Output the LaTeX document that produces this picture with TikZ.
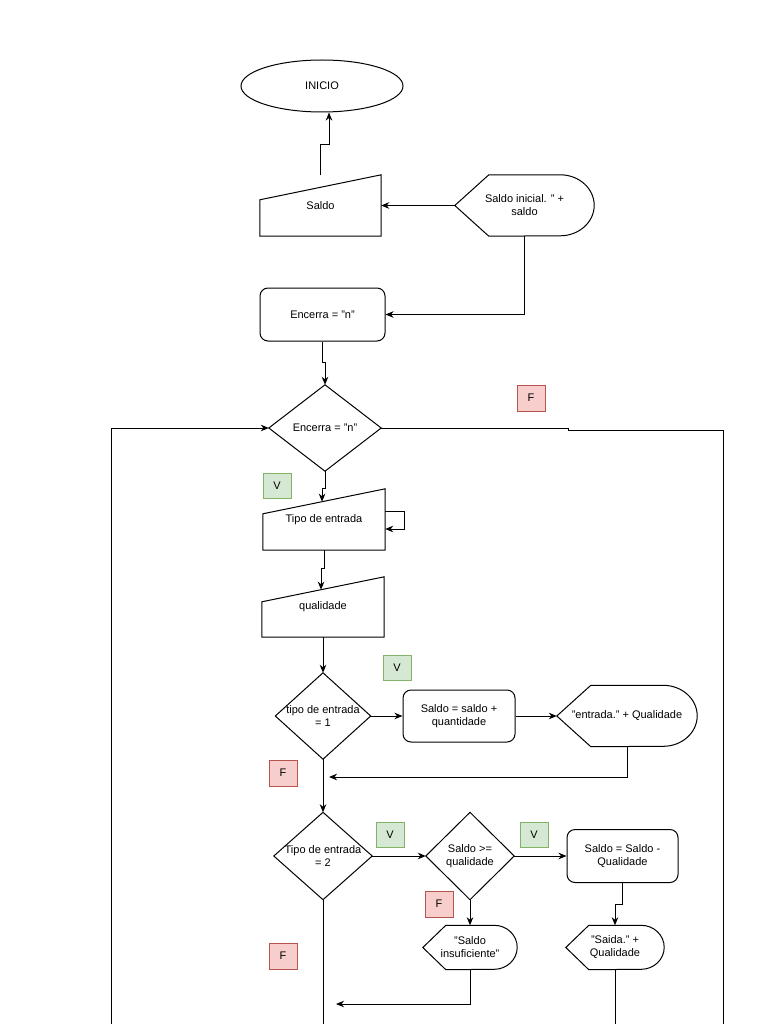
\documentclass[tikz,border=0pt]{standalone}
\usepackage{fontspec}
\setmainfont{Liberation Sans}
\usetikzlibrary{arrows.meta,calc,shapes.geometric}
\definecolor{redfill}{HTML}{F8CECC}
\definecolor{redline}{HTML}{B85450}
\definecolor{greenfill}{HTML}{D5E8D4}
\definecolor{greenline}{HTML}{82B366}
\newcommand\mishape[1]{\draw[ln] (#1.south west) -- ($(#1.north west)+(0,25)$) -- (#1.north east) -- (#1.south east) -- cycle;}
\newcommand\dispshape[3]{\draw[ln] (#1.west) -- ($(#1.north west)+(#2,0)$) -- ($(#1.north east)+(-#2,0)$) arc[start angle=90,end angle=-90,x radius=#2pt,y radius=#3pt] -- ($(#1.south west)+(#2,0)$) -- cycle;}
\newcommand\diashape[1]{\draw[ln] (#1.north) -- (#1.east) -- (#1.south) -- (#1.west) -- cycle;}
\begin{document}
\begin{tikzpicture}[x=1pt,y=-1pt,
  ln/.style={line width=1pt,black,line join=miter},
  arr/.style={ln,-{Stealth[length=8pt,width=6.5pt,inset=2.5pt]}},
  txt/.style={rectangle,inner sep=0pt,align=center,font=\fontsize{11}{13}\selectfont},
  bbox/.style 2 args={txt,minimum width=#1pt,minimum height=#2pt},
  rbox/.style 2 args={bbox={#1}{#2},draw,line width=1pt,rounded corners=8pt},
  vtag/.style={txt,draw=greenline,fill=greenfill,line width=1pt,minimum width=28pt,minimum height=25pt},
  ftag/.style={txt,draw=redline,fill=redfill,line width=1pt,minimum width=28pt,minimum height=26pt}]
\useasboundingbox (0,0) rectangle (768,1024);
\fill[white] (0,0) rectangle (768,1024);

% nodes
\node[txt,shape=ellipse,draw,line width=1pt,minimum width=162pt,minimum height=52pt] (inicio) at (322,86) {INICIO};
\node[bbox={121}{61}] (saldo) at (320.5,205.5) {Saldo};
\mishape{saldo}
\node[bbox={139}{61}] (disp0) at (524.5,205.5) {Saldo inicial. " +\\saldo};
\dispshape{disp0}{34}{30.5}
\node[rbox={125}{53}] (encbox) at (322.5,314.5) {Encerra = "n"};
\node[bbox={112}{86}] (encD) at (325,428) {Encerra = "n"};
\diashape{encD}
\node[bbox={122}{61}] (tipo) at (324,519.5) {Tipo de entrada};
\mishape{tipo}
\node[bbox={122}{60}] (qual) at (323,607) {qualidade};
\mishape{qual}
\node[bbox={95}{86}] (d1) at (323,716) {tipo de entrada\\= 1};
\diashape{d1}
\node[rbox={112}{52}] (b1) at (459,716) {Saldo = saldo +\\quantidade};
\node[bbox={140}{61}] (disp1) at (627,716) {"entrada." + Qualidade};
\dispshape{disp1}{34}{30.5}
\node[bbox={98}{87}] (d2) at (323,856) {Tipo de entrada\\= 2};
\diashape{d2}
\node[bbox={88}{87}] (d3) at (470,856) {Saldo >=\\qualidade};
\diashape{d3}
\node[rbox={111}{53}] (b2) at (622.5,856) {Saldo = Saldo -\\Qualidade};
\node[bbox={94}{44}] (disp2) at (470,947.5) {"Saldo\\insuficiente"};
\dispshape{disp2}{23}{22}
\node[bbox={98}{44}] (disp3) at (615,947.5) {"Saida." +\\Qualidade};
\dispshape{disp3}{23}{22}

% tags
\node[ftag] (f0) at (531,398) {F};
\node[vtag] (v0) at (277,486) {V};
\node[vtag] (v1) at (397,668) {V};
\node[ftag] (f1) at (283,773) {F};
\node[vtag] (v2) at (390,834.5) {V};
\node[vtag] (v3) at (534,834.5) {V};
\node[ftag] (f2) at (439,904) {F};
\node[ftag] (f3) at (283,956) {F};

% free ends
\coordinate (botL) at (111,1024);
\coordinate (botR) at (723,1024);
\coordinate (m1) at (329,777);
\coordinate (m2) at (336,1004);
\coordinate (tipoTop) at ($($(tipo.north west)+(0,25)$)!0.484!(tipo.north east)$);
\coordinate (qualTop) at ($($(qual.north west)+(0,25)$)!0.484!(qual.north east)$);

% connectors
\draw[arr] (saldo.north) -- ++(0,-30) -| ($(inicio.south)+(7,0)$);
\draw[arr] (disp0.west) -- (saldo.east);
\draw[arr] (disp0.south) |- (encbox.east);
\draw[arr] (encbox.south) -- ++(0,21) -| (encD.north);
\draw[arr] (botL) |- (encD.west);
\draw[ln] (encD.east) -- ++(187,0) -- ++(0,2) -| (botR);
\draw[arr] (encD.south) -- ++(0,17) -| (tipoTop);
\draw[arr] ($(tipo.east)+(0,-8.5)$) -- ++(19,0) -- ++(0,18) -- ($(tipo.east)+(0,9.5)$);
\draw[arr] (tipo.south) -- ++(0,18) -| (qualTop);
\draw[arr] (qual.south) -- (d1.north);
\draw[arr] (d1.east) -- (b1.west);
\draw[arr] (b1.east) -- (disp1.west);
\draw[arr] (disp1.south) |- (m1);
\draw[arr] (d1.south) -- (d2.north);
\draw[arr] (d2.east) -- (d3.west);
\draw[arr] (d3.east) -- (b2.west);
\draw[arr] (d3.south) -- (disp2.north);
\draw[arr] (b2.south) -- ++(0,21) -| (disp3.north);
\draw[arr] (disp2.south) |- (m2);
\draw[ln] (disp3.south) -- (disp3.south |- botL);
\draw[ln] (d2.south) -- (d2.south |- botL);
\end{tikzpicture}
\end{document}
